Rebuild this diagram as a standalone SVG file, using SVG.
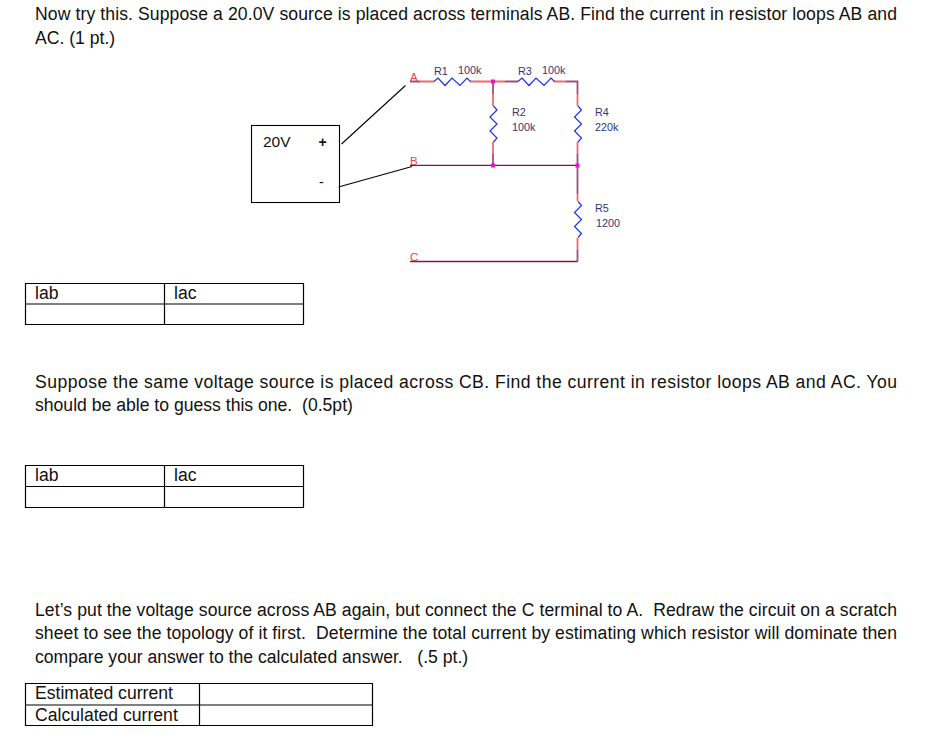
<svg xmlns="http://www.w3.org/2000/svg" width="943" height="753" viewBox="0 0 943 753">
<style>
text{font-family:"Liberation Sans",Arial,sans-serif;fill:#111;white-space:pre}
.p{font-size:17.600px}
.t{font-size:17.600px}
.s{font-size:10.800px;fill:#33337a}
.n{font-size:11.500px;fill:#f04050}
.cell{fill:none;stroke:#000;stroke-width:1.2}
.bl{fill:none;stroke:#000;stroke-width:1.1}
.w{fill:none;stroke:#f0686f;stroke-width:1.8}
.d{fill:none;stroke:#96527e;stroke-width:1.8}
.b{fill:none;stroke:#8a1040;stroke-width:1.4}
.z{fill:none;stroke:#2030f0;stroke-width:1.2}
.j{fill:#f010d0}
</style>
<rect width="943" height="753" fill="#fff"/>
<g id="text-blocks">
<text class="p" x="35" y="20" textLength="862">Now try this. Suppose a 20.0V source is placed across terminals AB. Find the current in resistor loops AB and</text>
<text class="p" x="35" y="44">AC. (1 pt.)</text>
<text class="p" x="35" y="388" textLength="862">Suppose the same voltage source is placed across CB. Find the current in resistor loops AB and AC. You</text>
<text class="p" x="35" y="411">should be able to guess this one.  (0.5pt)</text>
<text class="p" x="35" y="616" textLength="862">Let’s put the voltage source across AB again, but connect the C terminal to A.  Redraw the circuit on a scratch</text>
<text class="p" x="35" y="639" textLength="862">sheet to see the topology of it first.  Determine the total current by estimating which resistor will dominate then</text>
<text class="p" x="35" y="663">compare your answer to the calculated answer.   (.5 pt.)</text>
</g>
<g id="source">
<rect class="bl" x="251.500" y="125.500" width="88" height="77"/>
<text x="263" y="147" style="font-size:15.500px">20V</text>
<text x="318.500" y="147" style="font-size:14px;font-weight:bold">+</text>
<text x="319" y="187" style="font-size:14px">-</text>
</g>
<g id="connectors">
<path class="bl" d="M341.500 144L405.500 85.500M338.500 187L412 166.500"/>
<path class="d" d="M410 81.500H420M493 81.500V94M505 81.500H518M566 81.500H577.500V94M493 154V165M577.500 154V165.500V194M577.500 250V261.500"/>
<path class="w" d="M420 81.500H434M470 81.500H493M493 94V106M493 142V154M493 81.500H505M554 81.500H566M577.500 94V106M577.500 142V154M577.500 194V201M577.500 238V250"/>
<path class="b" d="M410 165.400H577.500M410 261.500H577.500"/>
<path class="j" d="M491 79.500h4v4h-4zM491 163.400h4v4h-4zM575.500 163.400h4v4h-4z"/>
</g>
<g id="R1"><path class="z" d="M434 81.500L438 78L445 85.500L452 78L460 85.500L467 78L470.500 81.500"/><text class="s" x="434" y="75">R1</text><text class="s" x="458" y="74">100k</text></g>
<g id="R3"><path class="z" d="M518 81.500L522 78L529 85.500L536 78L544 85.500L551 78L554.500 81.500"/><text class="s" x="518" y="75">R3</text><text class="s" x="542" y="74">100k</text></g>
<g id="R2"><path class="z" d="M493.500 106L497 110L490 117L497 124L490 131L497 138L493.500 142"/><text class="s" x="512" y="116">R2</text><text class="s" x="512" y="131">100k</text></g>
<g id="R4"><path class="z" d="M578 106L581.500 110L574.500 117L581.500 124L574.500 131L581.500 138L578 142"/><text class="s" x="595" y="116">R4</text><text class="s" x="595" y="131">220k</text></g>
<g id="R5"><path class="z" d="M578 201.500L581.500 205.500L574.500 212.500L581.500 219.500L574.500 226.500L581.500 233.500L578 237.500"/><text class="s" x="595" y="212">R5</text><text class="s" x="596" y="227">1200</text></g>
<g id="terminals">
<text class="n" x="410" y="81">A</text>
<text class="n" x="410" y="165">B</text>
<text class="n" x="410" y="261">C</text>
</g>
<g id="table-1">
<path class="cell" d="M25.500 283.500H303.500V324.500H25.500ZM25.500 304H303.500M164.500 283.500V324.500"/>
<text class="t" x="35" y="299">lab</text><text class="t" x="174" y="299">lac</text>
</g>
<g id="table-2">
<path class="cell" d="M25.500 465.500H303.500V507.500H25.500ZM25.500 486.500H303.500M164.500 465.500V507.500"/>
<text class="t" x="35" y="481">lab</text><text class="t" x="174" y="481">lac</text>
</g>
<g id="table-3">
<path class="cell" d="M25.500 683.500H372.500V725.500H25.500ZM25.500 705H372.500M199.500 683.500V725.500"/>
<text class="t" x="35" y="699">Estimated current</text><text class="t" x="35" y="721">Calculated current</text>
</g>
</svg>
